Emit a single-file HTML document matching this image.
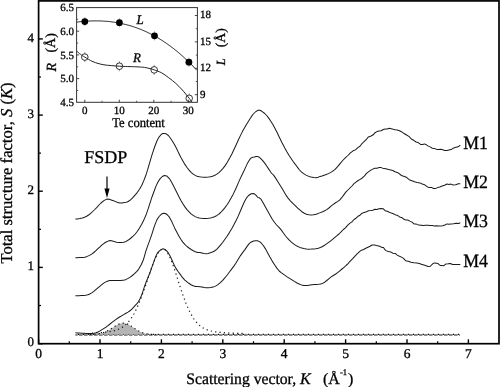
<!DOCTYPE html><html><head><meta charset="utf-8"><style>html,body{margin:0;padding:0;background:#fff;overflow:hidden;}svg{display:block;}text{font-family:"Liberation Serif",serif;fill:#000;text-rendering:geometricPrecision;stroke:#000;stroke-width:0.3px;}</style></head><body>
<svg width="500" height="387" viewBox="0 0 500 387">
<rect x="38.6" y="0.9" width="460.4" height="342.8" fill="none" stroke="#000" stroke-width="1.7"/>
<line x1="38.6" y1="343.7" x2="42.8" y2="343.7" stroke="#000" stroke-width="1.4"/>
<text x="34" y="346.4" font-size="13" text-anchor="end">0</text>
<line x1="38.6" y1="267.4" x2="42.8" y2="267.4" stroke="#000" stroke-width="1.4"/>
<text x="34" y="270.1" font-size="13" text-anchor="end">1</text>
<line x1="38.6" y1="191.2" x2="42.8" y2="191.2" stroke="#000" stroke-width="1.4"/>
<text x="34" y="193.9" font-size="13" text-anchor="end">2</text>
<line x1="38.6" y1="115.1" x2="42.8" y2="115.1" stroke="#000" stroke-width="1.4"/>
<text x="34" y="117.8" font-size="13" text-anchor="end">3</text>
<line x1="38.6" y1="38.9" x2="42.8" y2="38.9" stroke="#000" stroke-width="1.4"/>
<text x="34" y="41.6" font-size="13" text-anchor="end">4</text>
<line x1="38.6" y1="305.5" x2="41" y2="305.5" stroke="#000" stroke-width="1.2"/>
<line x1="38.6" y1="229.3" x2="41" y2="229.3" stroke="#000" stroke-width="1.2"/>
<line x1="38.6" y1="153.1" x2="41" y2="153.1" stroke="#000" stroke-width="1.2"/>
<line x1="38.6" y1="77.0" x2="41" y2="77.0" stroke="#000" stroke-width="1.2"/>
<line x1="38.6" y1="343.7" x2="38.6" y2="339.3" stroke="#000" stroke-width="1.4"/>
<text x="38.6" y="357.6" font-size="13.5" text-anchor="middle">0</text>
<line x1="100.0" y1="343.7" x2="100.0" y2="339.3" stroke="#000" stroke-width="1.4"/>
<text x="100.0" y="357.6" font-size="13.5" text-anchor="middle">1</text>
<line x1="161.4" y1="343.7" x2="161.4" y2="339.3" stroke="#000" stroke-width="1.4"/>
<text x="161.4" y="357.6" font-size="13.5" text-anchor="middle">2</text>
<line x1="222.8" y1="343.7" x2="222.8" y2="339.3" stroke="#000" stroke-width="1.4"/>
<text x="222.8" y="357.6" font-size="13.5" text-anchor="middle">3</text>
<line x1="284.2" y1="343.7" x2="284.2" y2="339.3" stroke="#000" stroke-width="1.4"/>
<text x="284.2" y="357.6" font-size="13.5" text-anchor="middle">4</text>
<line x1="345.6" y1="343.7" x2="345.6" y2="339.3" stroke="#000" stroke-width="1.4"/>
<text x="345.6" y="357.6" font-size="13.5" text-anchor="middle">5</text>
<line x1="407.0" y1="343.7" x2="407.0" y2="339.3" stroke="#000" stroke-width="1.4"/>
<text x="407.0" y="357.6" font-size="13.5" text-anchor="middle">6</text>
<line x1="468.4" y1="343.7" x2="468.4" y2="339.3" stroke="#000" stroke-width="1.4"/>
<text x="468.4" y="357.6" font-size="13.5" text-anchor="middle">7</text>
<line x1="69.3" y1="343.7" x2="69.3" y2="341.2" stroke="#000" stroke-width="1.2"/>
<line x1="130.7" y1="343.7" x2="130.7" y2="341.2" stroke="#000" stroke-width="1.2"/>
<line x1="192.1" y1="343.7" x2="192.1" y2="341.2" stroke="#000" stroke-width="1.2"/>
<line x1="253.5" y1="343.7" x2="253.5" y2="341.2" stroke="#000" stroke-width="1.2"/>
<line x1="314.9" y1="343.7" x2="314.9" y2="341.2" stroke="#000" stroke-width="1.2"/>
<line x1="376.3" y1="343.7" x2="376.3" y2="341.2" stroke="#000" stroke-width="1.2"/>
<line x1="437.7" y1="343.7" x2="437.7" y2="341.2" stroke="#000" stroke-width="1.2"/>
<text x="186.3" y="383.6" font-size="16" textLength="109.8" lengthAdjust="spacingAndGlyphs">Scattering vector,</text>
<text x="300.1" y="383.6" font-size="16" font-style="italic">K</text>
<text x="322.9" y="383.6" font-size="16">(&#197;</text>
<text x="340" y="374.8" font-size="8.6">-1</text>
<text x="348.1" y="383.6" font-size="16">)</text>
<text transform="translate(11.7,263.6) rotate(-90)" font-size="16.6">Total structure factor, <tspan font-style="italic">S</tspan> (<tspan font-style="italic">K</tspan>)</text>
<line x1="75.4" y1="335" x2="460" y2="335" stroke="#8a8a8a" stroke-width="1.9" stroke-dasharray="3.6 1.4" stroke-dashoffset="1.4"/>
<line x1="75.4" y1="334.4" x2="460" y2="334.4" stroke="#111" stroke-width="1.3" stroke-dasharray="1.3 3.7" stroke-dashoffset="2.65"/>
<path d="M90.0,334.5 L91.0,334.5 L92.0,334.4 L93.0,334.4 L94.0,334.3 L95.0,334.2 L96.0,334.2 L97.0,334.0 L98.0,333.9 L99.0,333.7 L100.0,333.5 L101.0,333.3 L102.0,333.0 L103.0,332.7 L104.0,332.4 L105.0,332.0 L106.0,331.5 L107.0,331.1 L108.0,330.5 L109.0,330.0 L110.0,329.4 L111.0,328.8 L112.0,328.1 L113.0,327.5 L114.0,326.9 L115.0,326.2 L116.0,325.6 L117.0,325.1 L118.0,324.6 L119.0,324.1 L120.0,323.8 L121.0,323.5 L122.0,323.3 L123.0,323.2 L124.0,323.2 L125.0,323.3 L126.0,323.6 L127.0,323.9 L128.0,324.3 L129.0,324.8 L130.0,325.4 L131.0,326.0 L132.0,326.7 L133.0,327.3 L134.0,328.0 L135.0,328.7 L136.0,329.4 L137.0,330.0 L138.0,330.6 L139.0,331.2 L140.0,331.7 L141.0,332.1 L142.0,332.5 L143.0,332.9 L144.0,333.2 L145.0,333.5 L146.0,333.7 L147.0,333.9 L148.0,334.0 L149.0,334.2 L150.0,334.3 L151.0,334.3 L152.0,334.4 L153.0,334.5 L154.0,334.5 L155.0,334.5 L156.0,334.5 Z" fill="#b4b4b4" stroke="none"/>
<path d="M90.0,334.5 L91.0,334.5 L92.0,334.4 L93.0,334.4 L94.0,334.3 L95.0,334.2 L96.0,334.2 L97.0,334.0 L98.0,333.9 L99.0,333.7 L100.0,333.5 L101.0,333.3 L102.0,333.0 L103.0,332.7 L104.0,332.4 L105.0,332.0 L106.0,331.5 L107.0,331.1 L108.0,330.5 L109.0,330.0 L110.0,329.4 L111.0,328.8 L112.0,328.1 L113.0,327.5 L114.0,326.9 L115.0,326.2 L116.0,325.6 L117.0,325.1 L118.0,324.6 L119.0,324.1 L120.0,323.8 L121.0,323.5 L122.0,323.3 L123.0,323.2 L124.0,323.2 L125.0,323.3 L126.0,323.6 L127.0,323.9 L128.0,324.3 L129.0,324.8 L130.0,325.4 L131.0,326.0 L132.0,326.7 L133.0,327.3 L134.0,328.0 L135.0,328.7 L136.0,329.4 L137.0,330.0 L138.0,330.6 L139.0,331.2 L140.0,331.7 L141.0,332.1 L142.0,332.5 L143.0,332.9 L144.0,333.2 L145.0,333.5 L146.0,333.7 L147.0,333.9 L148.0,334.0 L149.0,334.2 L150.0,334.3 L151.0,334.3 L152.0,334.4 L153.0,334.5 L154.0,334.5 L155.0,334.5 L156.0,334.5" fill="none" stroke="#111" stroke-width="1.2" stroke-dasharray="1.2 3.2"/>
<path d="M92.0,333.1 L93.0,333.0 L94.0,333.0 L95.0,332.9 L96.0,332.9 L97.0,332.8 L98.0,332.8 L99.0,332.7 L100.0,332.7 L101.0,332.6 L102.0,332.5 L103.0,332.4 L104.0,332.3 L105.0,332.2 L106.0,332.1 L107.0,332.0 L108.0,331.9 L109.0,331.8 L110.0,331.6 L111.0,331.4 L112.0,331.2 L113.0,331.0 L114.0,330.8 L115.0,330.5 L116.0,330.2 L117.0,329.9 L118.0,329.5 L119.0,329.0 L120.0,328.6 L121.0,328.0 L122.0,327.5 L123.0,326.8 L124.0,326.1 L125.0,325.3 L126.0,324.4 L127.0,323.4 L128.0,322.3 L129.0,321.2 L130.0,319.9 L131.0,318.5 L132.0,317.0 L133.0,315.4 L134.0,313.7 L135.0,311.8 L136.0,309.8 L137.0,307.7 L138.0,305.5 L139.0,303.2 L140.0,300.7 L141.0,298.2 L142.0,295.5 L143.0,292.8 L144.0,290.0 L145.0,287.1 L146.0,284.2 L147.0,281.2 L148.0,278.2 L149.0,275.3 L150.0,272.4 L151.0,269.5 L152.0,266.7 L153.0,264.0 L154.0,261.5 L155.0,259.1 L156.0,256.9 L157.0,254.9 L158.0,253.2 L159.0,251.8 L160.0,250.6 L161.0,249.8 L162.0,249.3 L163.0,249.1 L164.0,249.3 L165.0,249.8 L166.0,250.7 L167.0,252.0 L168.0,253.6 L169.0,255.4 L170.0,257.5 L171.0,259.9 L172.0,262.5 L173.0,265.2 L174.0,268.0 L175.0,271.0 L176.0,274.0 L177.0,277.1 L178.0,280.2 L179.0,283.3 L180.0,286.4 L181.0,289.4 L182.0,292.3 L183.0,295.2 L184.0,298.0 L185.0,300.6 L186.0,303.2 L187.0,305.6 L188.0,307.9 L189.0,310.1 L190.0,312.2 L191.0,314.1 L192.0,315.8 L193.0,317.5 L194.0,319.0 L195.0,320.4 L196.0,321.7 L197.0,322.9 L198.0,323.9 L199.0,324.9 L200.0,325.8 L201.0,326.6 L202.0,327.3 L203.0,327.9 L204.0,328.5 L205.0,329.0 L206.0,329.4 L207.0,329.8 L208.0,330.2 L209.0,330.5 L210.0,330.8 L211.0,331.0 L212.0,331.3 L213.0,331.5 L214.0,331.6 L215.0,331.8 L216.0,331.9 L217.0,332.1 L218.0,332.2 L219.0,332.3 L220.0,332.4 L221.0,332.5 L222.0,332.6 L223.0,332.6 L224.0,332.7 L225.0,332.8 L226.0,332.8 L227.0,332.9 L228.0,332.9 L229.0,333.0 L230.0,333.0 L231.0,333.1 L232.0,333.1 L233.0,333.2 L234.0,333.2 L235.0,333.2 L236.0,333.3 L237.0,333.3 L238.0,333.3 L239.0,333.4 L240.0,333.4 L241.0,333.4 L242.0,333.4 L243.0,333.5 L244.0,333.5 L245.0,333.5 L246.0,333.6" fill="none" stroke="#111" stroke-width="1.2" stroke-dasharray="1.2 3.2"/>
<path d="M75.4,219.1 L77.2,218.9 L79.9,218.5 L82.4,218.0 L84.5,217.2 L86.6,216.3 L88.6,215.0 L90.7,213.4 L92.7,211.5 L94.8,209.5 L96.9,207.3 L99.0,205.0 L101.0,203.0 L103.9,200.6 L106.7,199.1 L109.2,199.2 L111.9,200.2 L114.4,201.1 L117.2,202.2 L119.6,202.9 L122.0,203.1 L124.3,202.6 L126.2,202.2 L128.2,201.5 L130.5,199.9 L132.6,197.9 L135.0,195.2 L137.4,192.3 L139.5,189.2 L141.8,185.2 L143.7,180.9 L145.7,175.8 L147.8,169.2 L149.9,161.8 L151.9,155.1 L154.6,147.0 L157.0,140.7 L159.2,136.8 L161.2,134.5 L162.8,133.4 L164.3,133.4 L166.2,133.8 L168.4,135.5 L170.3,138.0 L172.5,141.2 L174.6,144.8 L176.7,148.8 L178.7,153.1 L180.8,157.2 L182.9,160.9 L184.9,164.4 L187.0,167.5 L189.1,170.1 L191.1,172.3 L193.2,174.1 L195.2,175.4 L197.1,176.2 L199.4,176.8 L201.5,177.1 L203.7,177.3 L206.1,177.3 L208.3,177.1 L210.4,176.8 L212.4,176.3 L214.5,175.5 L216.5,174.4 L218.6,172.8 L220.7,170.9 L222.8,168.6 L224.8,166.1 L227.3,162.3 L229.7,158.1 L232.0,153.7 L234.1,149.3 L236.2,144.7 L238.2,140.3 L240.3,135.9 L242.4,131.6 L244.4,127.9 L246.9,123.7 L249.1,120.2 L251.2,116.9 L253.3,114.0 L255.9,111.5 L258.4,110.1 L260.6,110.5 L262.6,111.9 L264.7,113.5 L266.7,115.5 L268.7,118.1 L270.8,121.2 L272.9,124.6 L275.0,128.4 L277.0,132.3 L279.1,136.7 L281.9,142.5 L284.8,148.1 L287.0,152.1 L289.1,155.5 L291.3,158.8 L293.3,161.7 L294.9,163.9 L296.4,165.8 L297.9,167.9 L299.5,170.0 L301.4,171.9 L303.6,173.6 L306.0,175.1 L308.8,176.4 L311.2,177.0 L313.8,177.5 L316.0,177.7 L318.1,177.2 L320.1,176.4 L322.0,175.9 L324.1,175.2 L326.2,174.5 L328.3,173.6 L330.4,172.6 L332.4,171.4 L335.1,169.3 L337.6,166.6 L340.1,163.6 L342.7,160.5 L345.3,157.9 L347.9,155.5 L350.4,152.9 L353.1,150.8 L355.4,149.9 L357.9,147.6 L360.0,146.3 L362.2,143.3 L364.0,141.7 L366.1,139.7 L368.4,136.9 L370.6,136.3 L373.2,134.8 L375.0,132.7 L377.0,131.6 L379.1,131.1 L381.2,130.7 L383.2,129.5 L385.2,128.9 L387.2,128.9 L389.2,128.3 L391.2,128.7 L393.3,129.3 L395.3,129.8 L397.2,130.0 L399.5,130.8 L401.6,131.8 L403.6,133.2 L406.2,134.8 L409.2,136.6 L411.3,139.0 L413.7,140.3 L416.1,142.0 L418.2,142.6 L420.6,144.4 L422.6,144.5 L424.4,143.9 L426.4,144.8 L428.3,146.1 L430.2,146.9 L432.3,148.2 L434.5,148.4 L436.5,149.4 L438.5,149.5 L440.7,149.3 L442.7,149.8 L444.8,150.4 L446.9,150.5 L448.9,150.0 L451.2,149.6 L453.2,148.2 L455.1,147.6 L458.1,146.8 L460.3,145.1" fill="none" stroke="#1a1a1a" stroke-width="1.02" stroke-linejoin="round"/>
<path d="M75.4,257.7 L77.1,257.7 L79.6,257.6 L82.3,257.5 L84.7,257.2 L87.2,256.4 L89.5,255.4 L91.7,254.1 L93.8,252.5 L95.9,250.6 L97.9,248.7 L100.0,246.8 L102.0,244.9 L104.1,243.3 L106.2,242.0 L108.2,241.1 L110.3,240.6 L112.3,240.9 L114.4,241.6 L116.5,242.2 L118.8,242.4 L121.2,242.5 L123.5,242.2 L126.2,241.4 L129.1,239.5 L131.0,238.0 L133.1,236.2 L135.3,234.0 L137.4,231.3 L139.5,228.0 L141.7,224.2 L143.8,220.1 L145.7,215.8 L147.9,209.7 L149.9,203.3 L151.9,197.2 L154.0,191.5 L156.0,186.1 L158.1,181.7 L160.2,178.6 L162.3,176.5 L164.3,175.5 L166.9,176.1 L169.4,178.6 L171.9,182.7 L174.6,187.9 L176.6,191.9 L178.7,196.3 L180.8,200.3 L182.9,203.8 L184.9,206.9 L187.0,209.6 L189.1,211.9 L191.1,213.8 L193.2,215.4 L195.2,216.6 L197.1,217.4 L199.4,217.9 L201.5,218.2 L203.7,218.4 L206.1,218.4 L208.3,218.2 L210.4,217.9 L212.4,217.5 L214.5,216.8 L216.5,215.7 L218.6,214.3 L220.6,212.5 L222.7,210.4 L224.8,207.9 L226.9,205.0 L229.0,201.7 L231.1,198.1 L233.1,194.4 L235.7,189.0 L238.1,183.4 L240.2,178.6 L242.3,174.2 L244.0,170.8 L246.0,166.4 L247.9,162.4 L249.6,159.7 L251.2,157.9 L252.8,157.2 L254.4,156.9 L256.0,156.5 L257.6,156.4 L259.2,157.2 L260.8,158.6 L262.7,160.6 L264.7,163.1 L266.7,166.0 L268.6,168.9 L270.0,171.0 L271.2,172.8 L272.4,174.0 L273.8,175.4 L275.6,178.1 L277.6,181.2 L279.6,184.4 L281.5,187.6 L283.3,190.6 L285.0,193.4 L286.5,195.9 L288.5,198.7 L290.6,201.1 L293.1,203.7 L295.7,206.2 L297.7,208.1 L299.8,209.9 L301.9,211.7 L303.9,213.0 L306.4,214.2 L308.8,214.8 L311.2,215.0 L313.6,214.8 L315.9,214.2 L318.4,213.4 L320.4,212.6 L322.6,211.7 L324.7,210.7 L326.7,209.6 L328.9,208.0 L331.0,206.2 L333.0,204.6 L335.2,203.0 L337.4,201.6 L339.6,200.1 L341.7,197.7 L343.8,194.9 L346.0,191.9 L347.9,190.0 L349.9,188.0 L352.0,186.0 L354.0,183.7 L356.0,182.2 L358.1,180.5 L360.1,179.4 L362.0,178.2 L364.3,176.1 L366.3,173.7 L368.4,171.9 L370.5,170.4 L372.7,169.1 L374.8,168.2 L377.0,168.2 L379.2,167.6 L381.2,167.6 L383.7,168.6 L386.0,168.8 L388.3,169.6 L390.8,170.1 L392.8,170.5 L395.0,171.7 L397.2,172.4 L399.4,173.8 L401.5,175.5 L403.6,176.2 L406.5,177.3 L409.2,179.7 L411.9,180.8 L414.5,181.8 L417.1,182.5 L419.9,182.9 L422.2,184.0 L424.7,184.8 L427.1,186.7 L429.3,187.6 L431.4,187.4 L433.5,188.5 L435.6,188.4 L437.6,187.6 L439.8,187.0 L442.1,186.0 L444.6,185.3 L446.9,184.0 L449.0,184.4 L451.0,184.1 L453.1,185.0 L455.7,184.8 L458.4,183.8 L460.3,183.7" fill="none" stroke="#1a1a1a" stroke-width="1.02" stroke-linejoin="round"/>
<path d="M75.4,295.7 L76.8,295.7 L78.9,295.7 L81.3,295.6 L83.6,295.5 L85.5,295.3 L87.9,294.7 L89.8,294.0 L91.7,292.9 L93.8,291.4 L95.8,289.7 L97.9,287.9 L100.0,286.1 L102.1,284.4 L104.1,282.9 L106.8,281.4 L109.5,280.5 L111.7,280.4 L114.2,280.5 L116.5,280.6 L118.7,280.5 L120.9,280.4 L122.7,280.2 L124.5,280.0 L126.2,279.4 L128.1,278.4 L130.2,277.1 L132.4,275.5 L134.5,273.7 L136.6,271.7 L138.6,269.3 L141.2,264.8 L143.3,260.0 L144.4,256.4 L145.7,251.7 L147.5,246.4 L149.8,240.1 L151.9,234.1 L154.4,226.1 L157.0,219.6 L159.1,216.5 L161.2,214.3 L163.4,213.2 L165.5,213.5 L167.5,215.0 L169.4,217.2 L172.0,222.1 L174.6,227.9 L176.6,231.8 L178.7,235.8 L180.8,239.3 L182.8,242.1 L184.8,244.4 L187.0,246.5 L189.0,248.0 L191.2,249.5 L193.3,250.7 L195.2,251.7 L197.7,252.4 L200.0,252.6 L201.9,253.1 L203.9,253.6 L206.2,253.7 L208.2,253.4 L210.3,252.8 L212.5,252.0 L214.5,251.0 L216.7,249.3 L218.7,247.2 L220.7,244.8 L222.8,242.2 L224.9,239.3 L226.9,236.5 L229.4,232.6 L232.0,228.3 L234.0,224.6 L236.1,220.5 L238.2,216.1 L240.3,211.2 L242.5,206.0 L244.4,201.7 L246.6,197.8 L248.6,195.5 L251.2,193.8 L253.7,193.4 L255.9,195.2 L257.9,197.5 L259.3,197.8 L261.0,199.2 L263.1,202.7 L265.7,207.5 L268.2,212.0 L270.3,215.7 L272.3,219.2 L274.4,222.3 L276.6,225.0 L279.0,227.4 L281.2,229.9 L283.2,232.7 L285.2,235.5 L287.4,238.2 L289.3,240.2 L291.4,242.1 L293.6,243.9 L295.7,245.4 L297.8,246.5 L299.9,247.4 L301.9,248.0 L303.9,248.5 L306.3,249.0 L308.7,249.2 L311.2,249.1 L313.4,248.9 L315.8,248.7 L318.2,248.2 L320.5,247.5 L322.6,246.5 L324.5,245.3 L326.5,243.9 L328.7,242.3 L330.7,240.8 L332.8,239.2 L334.9,237.4 L337.0,235.7 L339.0,234.0 L341.3,231.7 L343.4,229.5 L345.4,227.9 L347.3,225.6 L349.7,223.3 L351.9,221.8 L354.0,219.5 L356.0,218.2 L358.0,216.3 L360.0,215.2 L362.1,213.2 L364.2,212.5 L366.5,211.7 L368.5,210.8 L370.7,210.6 L372.8,210.2 L374.8,209.2 L377.0,209.5 L379.0,208.8 L381.0,208.4 L383.1,208.7 L385.1,210.7 L387.2,211.3 L389.3,212.3 L391.3,213.1 L393.4,213.7 L395.5,214.9 L397.5,215.3 L399.6,216.9 L401.6,217.4 L403.6,219.0 L405.8,220.1 L407.7,220.0 L409.8,221.1 L412.0,222.1 L414.0,223.9 L416.4,224.1 L418.8,225.1 L421.3,225.2 L423.4,225.5 L425.6,225.3 L427.9,225.2 L430.3,225.4 L432.3,225.5 L434.4,225.9 L436.5,225.8 L438.6,226.1 L440.7,225.9 L442.8,225.8 L444.9,225.0 L447.0,223.9 L449.0,224.3 L451.0,224.1 L453.6,223.8 L456.3,223.3 L458.7,223.4 L460.3,222.8" fill="none" stroke="#1a1a1a" stroke-width="1.02" stroke-linejoin="round"/>
<path d="M75.4,332.8 L77.0,332.9 L79.3,333.0 L81.8,333.2 L84.0,333.3 L86.3,333.4 L88.2,333.6 L90.0,333.6 L92.1,333.5 L94.0,333.2 L96.0,332.7 L98.0,332.0 L100.0,330.9 L102.0,329.6 L104.0,328.4 L106.0,327.2 L108.0,325.6 L110.0,324.0 L112.0,322.4 L114.0,320.8 L116.0,319.4 L118.0,318.0 L120.0,316.8 L122.0,315.6 L124.0,314.4 L126.0,313.2 L128.0,312.1 L130.0,310.8 L131.8,309.1 L133.5,307.3 L134.8,305.9 L136.0,304.6 L137.2,303.4 L138.4,301.7 L139.9,299.0 L141.5,295.5 L143.1,290.8 L144.6,286.2 L145.8,283.0 L147.0,280.0 L148.4,276.5 L150.2,272.0 L152.8,264.7 L155.3,257.6 L156.9,254.0 L158.4,251.9 L160.7,249.9 L163.1,248.8 L165.0,249.4 L166.7,250.9 L168.3,252.9 L169.8,255.5 L171.4,258.8 L172.9,262.2 L174.4,265.4 L176.0,268.4 L177.9,271.3 L180.1,274.1 L182.2,277.2 L184.8,280.2 L186.7,281.7 L188.8,283.3 L191.0,284.7 L193.1,285.8 L195.5,286.5 L197.6,286.6 L200.0,286.8 L202.0,287.1 L204.1,287.5 L206.3,287.7 L208.3,287.8 L210.8,287.6 L213.1,287.1 L215.5,286.1 L217.9,284.6 L220.3,282.6 L222.7,280.3 L225.0,277.7 L227.4,274.7 L229.6,271.8 L231.8,268.9 L233.9,266.1 L235.8,263.3 L238.2,259.3 L240.5,255.6 L242.8,252.4 L245.1,249.4 L247.1,246.4 L249.0,243.9 L250.9,242.2 L252.9,241.2 L255.2,240.7 L257.5,240.8 L259.5,241.6 L261.4,243.2 L263.3,245.5 L265.3,248.6 L267.6,252.7 L269.9,257.1 L272.2,261.1 L274.6,264.8 L276.8,268.1 L279.2,271.0 L281.1,272.7 L283.3,274.2 L285.4,275.7 L287.5,277.1 L289.6,278.4 L291.6,279.6 L294.3,281.4 L297.0,283.0 L299.1,284.0 L301.4,284.9 L303.9,285.5 L305.8,285.6 L307.8,285.4 L310.0,285.1 L312.2,284.8 L314.2,284.6 L316.3,284.5 L318.4,284.3 L320.5,284.0 L322.5,283.4 L324.7,282.2 L326.8,280.5 L328.8,278.8 L330.8,277.2 L333.3,275.5 L335.7,274.0 L338.0,272.4 L340.1,270.6 L342.0,269.0 L344.0,267.4 L346.0,265.5 L348.1,263.6 L350.0,261.3 L352.7,258.7 L355.2,255.8 L357.4,253.6 L359.5,251.7 L361.5,250.2 L363.6,249.5 L365.8,248.2 L368.0,247.2 L370.0,246.3 L372.0,245.0 L374.3,245.0 L376.5,245.5 L378.5,245.9 L380.4,246.6 L382.0,247.5 L383.5,247.5 L384.6,249.3 L386.0,250.6 L388.3,251.5 L391.0,252.1 L393.0,253.2 L395.2,253.4 L397.2,255.1 L399.5,256.2 L401.5,257.1 L403.5,258.4 L405.6,260.7 L408.2,261.2 L411.0,262.3 L413.9,262.8 L416.8,263.0 L419.4,263.5 L422.0,264.4 L424.0,265.1 L426.1,265.8 L428.0,266.5 L430.4,266.2 L432.5,264.0 L434.5,262.9 L436.4,263.2 L438.0,263.6 L439.5,265.0 L440.7,265.6 L442.0,265.6 L443.9,265.7 L446.0,263.9 L448.2,263.8 L450.4,263.5 L452.6,264.5 L455.0,264.5 L457.9,264.4 L460.3,264.5" fill="none" stroke="#1a1a1a" stroke-width="1.02" stroke-linejoin="round"/>
<text x="463.2" y="148.5" font-size="18.7" textLength="24.7" lengthAdjust="spacingAndGlyphs">M1</text>
<text x="463.2" y="188.3" font-size="18.7" textLength="24.7" lengthAdjust="spacingAndGlyphs">M2</text>
<text x="463.2" y="226.7" font-size="18.7" textLength="24.7" lengthAdjust="spacingAndGlyphs">M3</text>
<text x="463.2" y="266.6" font-size="18.7" textLength="24.7" lengthAdjust="spacingAndGlyphs">M4</text>
<text x="84.2" y="163.4" font-size="18">FSDP</text>
<line x1="107" y1="176.5" x2="107" y2="190" stroke="#000" stroke-width="1.2"/>
<path d="M104.4,188.5 L109.6,188.5 L107,198 Z" fill="#000"/>
<rect x="76.6" y="7.6" width="120.8" height="94.7" fill="#fff" stroke="#333" stroke-width="1"/>
<line x1="76.6" y1="78.6" x2="79.2" y2="78.6" stroke="#333" stroke-width="0.9"/>
<line x1="76.6" y1="54.9" x2="79.2" y2="54.9" stroke="#333" stroke-width="0.9"/>
<line x1="76.6" y1="31.2" x2="79.2" y2="31.2" stroke="#333" stroke-width="0.9"/>
<line x1="76.6" y1="90.5" x2="78.2" y2="90.5" stroke="#333" stroke-width="0.8"/>
<line x1="76.6" y1="66.8" x2="78.2" y2="66.8" stroke="#333" stroke-width="0.8"/>
<line x1="76.6" y1="43.0" x2="78.2" y2="43.0" stroke="#333" stroke-width="0.8"/>
<line x1="76.6" y1="19.3" x2="78.2" y2="19.3" stroke="#333" stroke-width="0.8"/>
<text x="74" y="106.0" font-size="11" text-anchor="end">4.5</text>
<text x="74" y="82.3" font-size="11" text-anchor="end">5.0</text>
<text x="74" y="58.6" font-size="11" text-anchor="end">5.5</text>
<text x="74" y="34.9" font-size="11" text-anchor="end">6.0</text>
<text x="74" y="11.2" font-size="11" text-anchor="end">6.5</text>
<line x1="197.4" y1="94.7" x2="194.8" y2="94.7" stroke="#333" stroke-width="0.9"/>
<text x="200.1" y="97.6" font-size="11">9</text>
<line x1="197.4" y1="68.3" x2="194.8" y2="68.3" stroke="#333" stroke-width="0.9"/>
<text x="200.1" y="71.2" font-size="11">12</text>
<line x1="197.4" y1="41.9" x2="194.8" y2="41.9" stroke="#333" stroke-width="0.9"/>
<text x="200.1" y="44.8" font-size="11">15</text>
<line x1="197.4" y1="15.5" x2="194.8" y2="15.5" stroke="#333" stroke-width="0.9"/>
<text x="200.1" y="18.4" font-size="11">18</text>
<line x1="197.4" y1="81.5" x2="195.8" y2="81.5" stroke="#333" stroke-width="0.8"/>
<line x1="197.4" y1="55.1" x2="195.8" y2="55.1" stroke="#333" stroke-width="0.8"/>
<line x1="197.4" y1="28.7" x2="195.8" y2="28.7" stroke="#333" stroke-width="0.8"/>
<line x1="84.8" y1="102.3" x2="84.8" y2="99.7" stroke="#333" stroke-width="0.9"/>
<text x="84.8" y="113.6" font-size="11" text-anchor="middle">0</text>
<line x1="119.3" y1="102.3" x2="119.3" y2="99.7" stroke="#333" stroke-width="0.9"/>
<text x="119.3" y="113.6" font-size="11" text-anchor="middle">10</text>
<line x1="153.8" y1="102.3" x2="153.8" y2="99.7" stroke="#333" stroke-width="0.9"/>
<text x="153.8" y="113.6" font-size="11" text-anchor="middle">20</text>
<line x1="188.3" y1="102.3" x2="188.3" y2="99.7" stroke="#333" stroke-width="0.9"/>
<text x="188.3" y="113.6" font-size="11" text-anchor="middle">30</text>
<line x1="102.0" y1="102.3" x2="102.0" y2="100.7" stroke="#333" stroke-width="0.8"/>
<line x1="136.6" y1="102.3" x2="136.6" y2="100.7" stroke="#333" stroke-width="0.8"/>
<line x1="171.1" y1="102.3" x2="171.1" y2="100.7" stroke="#333" stroke-width="0.8"/>
<text x="112.3" y="126.9" font-size="13.5" textLength="52.5" lengthAdjust="spacingAndGlyphs">Te content</text>
<text transform="translate(56.2,71.6) rotate(-90)" font-size="14" font-style="italic">R</text>
<text transform="translate(55,52.6) rotate(-90)" font-size="14">(&#197;)</text>
<text transform="translate(224.7,65.2) rotate(-90)" font-size="12.5" font-style="italic">L</text>
<text transform="translate(224.6,47.2) rotate(-90)" font-size="13.7">(&#197;)</text>
<text x="136.6" y="24.2" font-size="13" font-style="italic">L</text>
<text x="133.1" y="62.4" font-size="13" font-style="italic">R</text>
<path d="M76.8,22.1 L77.8,22.0 L78.8,21.9 L79.8,21.7 L80.8,21.6 L81.8,21.5 L82.8,21.4 L83.8,21.4 L84.8,21.3 L85.8,21.2 L86.8,21.1 L87.8,21.1 L88.8,21.0 L89.8,21.0 L90.8,21.0 L91.8,20.9 L92.8,20.9 L93.8,20.9 L94.8,20.9 L95.8,20.9 L96.8,20.9 L97.8,20.9 L98.8,20.9 L99.8,20.9 L100.8,21.0 L101.8,21.0 L102.8,21.1 L103.8,21.1 L104.8,21.2 L105.8,21.3 L106.8,21.3 L107.8,21.4 L108.8,21.5 L109.8,21.6 L110.8,21.8 L111.8,21.9 L112.8,22.0 L113.8,22.2 L114.8,22.3 L115.8,22.5 L116.8,22.6 L117.8,22.8 L118.8,23.0 L119.8,23.2 L120.8,23.4 L121.8,23.6 L122.8,23.8 L123.8,24.1 L124.8,24.3 L125.8,24.5 L126.8,24.8 L127.8,25.1 L128.8,25.3 L129.8,25.6 L130.8,25.9 L131.8,26.2 L132.8,26.5 L133.8,26.9 L134.8,27.2 L135.8,27.6 L136.8,27.9 L137.8,28.3 L138.8,28.7 L139.8,29.0 L140.8,29.4 L141.8,29.8 L142.8,30.3 L143.8,30.7 L144.8,31.1 L145.8,31.6 L146.8,32.0 L147.8,32.5 L148.8,33.0 L149.8,33.5 L150.8,34.0 L151.8,34.5 L152.8,35.0 L153.8,35.6 L154.8,36.1 L155.8,36.7 L156.8,37.3 L157.8,37.8 L158.8,38.4 L159.8,39.0 L160.8,39.7 L161.8,40.3 L162.8,40.9 L163.8,41.6 L164.8,42.3 L165.8,42.9 L166.8,43.6 L167.8,44.3 L168.8,45.0 L169.8,45.8 L170.8,46.5 L171.8,47.3 L172.8,48.0 L173.8,48.8 L174.8,49.6 L175.8,50.4 L176.8,51.2 L177.8,52.0 L178.8,52.9 L179.8,53.7 L180.8,54.6 L181.8,55.5 L182.8,56.4 L183.8,57.3 L184.8,58.2 L185.8,59.1 L186.8,60.1 L187.8,61.0 L188.8,62.0 L189.8,63.0 L190.8,64.0 L191.8,65.0 L192.8,66.0 L193.8,67.1 L194.8,68.1 L195.8,69.2 L196.8,70.3" fill="none" stroke="#222" stroke-width="1"/>
<path d="M76.8,51.2 C77.4,51.7 79.2,53.3 80.5,54.3 C81.8,55.3 82.7,55.9 84.8,57.1 C86.9,58.3 89.8,60.4 93.0,61.7 C96.2,63.0 99.5,64.0 103.9,64.8 C108.3,65.5 115.1,65.9 119.4,66.2 C123.8,66.5 127.2,66.5 130.0,66.6 C132.8,66.7 133.6,66.7 136.0,66.8 C138.4,66.9 142.2,67.1 144.5,67.4 C146.8,67.7 148.4,68.2 150.0,68.6 C151.6,69.0 152.3,69.2 154.2,69.9 C156.1,70.6 159.2,71.5 161.6,72.8 C164.0,74.1 166.3,75.9 168.7,77.7 C171.1,79.5 173.7,81.5 175.8,83.4 C177.9,85.3 179.8,87.3 181.5,89.1 C183.2,90.9 184.5,92.6 185.8,94.1 C187.1,95.6 188.1,96.9 189.2,98.3 C190.3,99.7 191.7,101.8 192.2,102.5" fill="none" stroke="#222" stroke-width="1"/>
<line x1="84.8" y1="17.0" x2="84.8" y2="26.2" stroke="#999" stroke-width="0.8"/>
<circle cx="84.8" cy="21.6" r="3.4" fill="#000"/>
<line x1="119.4" y1="18.1" x2="119.4" y2="27.3" stroke="#999" stroke-width="0.8"/>
<circle cx="119.4" cy="22.7" r="3.4" fill="#000"/>
<line x1="154.5" y1="31.2" x2="154.5" y2="40.4" stroke="#999" stroke-width="0.8"/>
<circle cx="154.5" cy="35.8" r="3.4" fill="#000"/>
<line x1="188.9" y1="57.6" x2="188.9" y2="66.8" stroke="#999" stroke-width="0.8"/>
<circle cx="188.9" cy="62.2" r="3.4" fill="#000"/>
<path d="M84.8,52.1 V54.1 M84.8,60.1 V62.1" stroke="#777" stroke-width="0.8"/>
<circle cx="84.8" cy="57.1" r="3.3" fill="none" stroke="#222" stroke-width="0.9"/>
<path d="M119.4,61.2 V63.2 M119.4,69.2 V71.2" stroke="#777" stroke-width="0.8"/>
<circle cx="119.4" cy="66.2" r="3.3" fill="none" stroke="#222" stroke-width="0.9"/>
<path d="M154.2,64.9 V66.9 M154.2,72.9 V74.9" stroke="#777" stroke-width="0.8"/>
<circle cx="154.2" cy="69.9" r="3.3" fill="none" stroke="#222" stroke-width="0.9"/>
<path d="M189.2,93.3 V95.3 M189.2,101.3 V103.3" stroke="#777" stroke-width="0.8"/>
<circle cx="189.2" cy="98.3" r="3.3" fill="none" stroke="#222" stroke-width="0.9"/>
</svg></body></html>
